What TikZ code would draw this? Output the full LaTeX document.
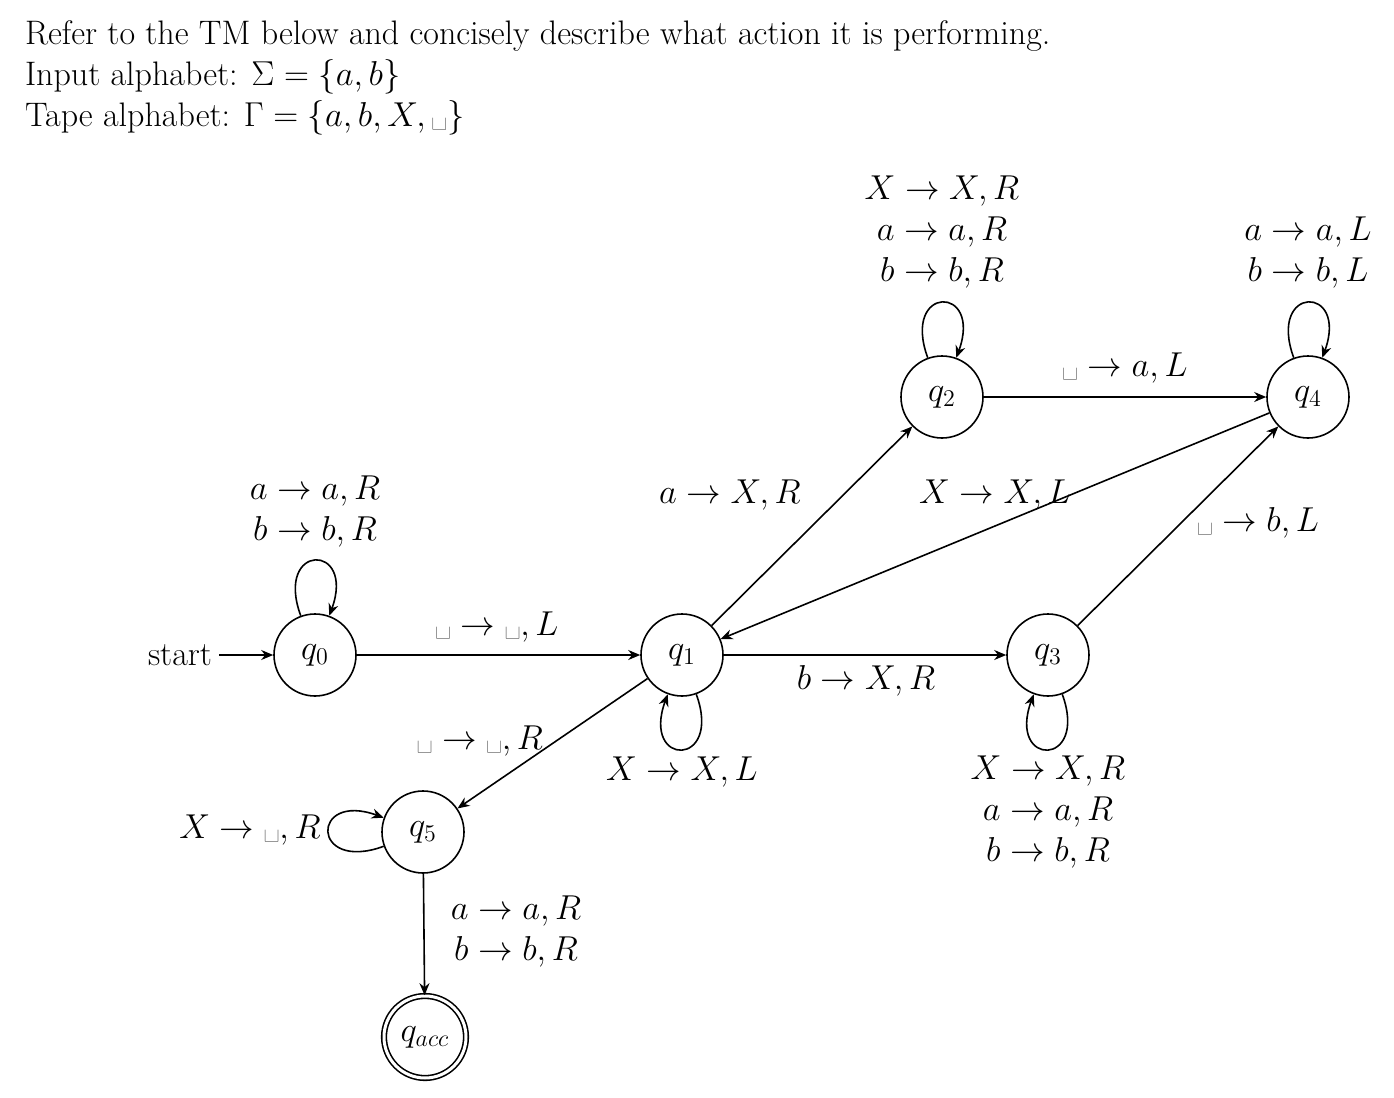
\documentclass[tikz,border=0pt]{standalone}
\usetikzlibrary{arrows.meta}
\newcommand{\blk}{\text{\textvisiblespace}}
\usepackage{amsmath}
\begin{document}
\begin{tikzpicture}[x=0.5pt,y=-0.5pt,
 every node/.style={font=\fontsize{17}{20.5}\selectfont},
 st/.style={draw,circle,minimum size=41pt,inner sep=0pt,thick},
 acc/.style={st,double,double distance=1.5pt},
 lbl/.style={align=center},
 edge/.style={->,>={Stealth[length=6pt,width=5pt]},thick},
 lp/.style={edge,looseness=7}]
\useasboundingbox (0,0) rectangle (1394,1098);
\node[anchor=north west,align=left] (hdr) at (18,14) {Refer to the TM below and concisely describe what action it is performing.\\
Input alphabet: $\Sigma=\{a,b\}$\\
Tape alphabet: $\Gamma=\{a,b,X,\blk\}$};
\node[st] (q0) at (315,655) {$q_0$};
\node[st] (q1) at (682,655) {$q_1$};
\node[st] (q2) at (942,397) {$q_2$};
\node[st] (q4) at (1308,397) {$q_4$};
\node[st] (q3) at (1048,655) {$q_3$};
\node[st] (q5) at (423,832) {$q_5$};
\node[acc] (qa) at (425,1037) {$q_{acc}$};
\node (start) at (180,655) {start};
\draw[edge] (start) -- (q0);
\draw[lp] (q0.north west) ++(5,-3) coordinate (a0) (q0) to[out=110,in=70] (q0);
\node[lbl] at (315,512) {$a\rightarrow a,R$\\$b\rightarrow b,R$};
\draw[lp] (q2) to[out=110,in=70] (q2);
\node[lbl] at (942,232) {$X\rightarrow X,R$\\$a\rightarrow a,R$\\$b\rightarrow b,R$};
\draw[lp] (q4) to[out=110,in=70] (q4);
\node[lbl] at (1308,253) {$a\rightarrow a,L$\\$b\rightarrow b,L$};
\draw[lp] (q1) to[out=290,in=250] (q1);
\node[lbl] at (682,772) {$X\rightarrow X,L$};
\draw[lp] (q3) to[out=290,in=250] (q3);
\node[lbl] at (1048,812) {$X\rightarrow X,R$\\$a\rightarrow a,R$\\$b\rightarrow b,R$};
\draw[lp] (q5) to[out=200,in=160] (q5);
\node[lbl] at (250,830) {$X\rightarrow \blk,R$};
\draw[edge] (q0) -- (q1);
\node at (497,627) {$\blk\rightarrow \blk,L$};
\draw[edge] (q1) -- (q2);
\node at (730,495) {$a\rightarrow X,R$};
\draw[edge] (q2) -- (q4);
\node at (1125,368) {$\blk\rightarrow a,L$};
\draw[edge] (q4) -- (q1);
\node at (995,495) {$X\rightarrow X,L$};
\draw[edge] (q3) -- (q4);
\node at (1258,523) {$\blk\rightarrow b,L$};
\draw[edge] (q1) -- (q3);
\node at (866,681) {$b\rightarrow X,R$};
\draw[edge] (q1) -- (q5);
\node at (480,741) {$\blk\rightarrow \blk,R$};
\draw[edge] (q5) -- (qa);
\node[lbl] at (516,932) {$a\rightarrow a,R$\\$b\rightarrow b,R$};
\end{tikzpicture}
\end{document}
